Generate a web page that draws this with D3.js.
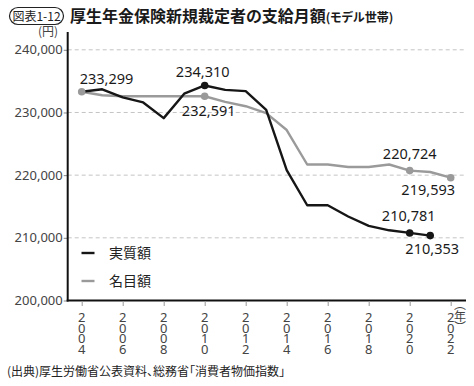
<!DOCTYPE html>
<html><head><meta charset="utf-8">
<script src="https://cdn.jsdelivr.net/npm/d3@7"></script>
<style>
body{margin:0;background:#fff;}
text{font-family:"Noto Sans CJK JP","Noto Sans",sans-serif;}
.palt{font-feature-settings:"palt";}
.vert{writing-mode:vertical-rl;text-orientation:upright;}
.vmix{writing-mode:vertical-rl;font-feature-settings:"vpal";}
</style></head>
<body><svg id="c" width="474" height="386"></svg>
<script>
const years = d3.range(2004, 2023);
const realValues = [233299, 233700, 232400, 231600, 229100, 233000, 234310, 233600, 233400, 230400, 220800, 215200, 215200, 213400, 211900, 211200, 210781, 210353];
const nominalValues = [233299, 232750, 232600, 232600, 232600, 232600, 232591, 231700, 231000, 229900, 227200, 221700, 221700, 221300, 221300, 221700, 220724, 220500, 219593];
const yTicks = [200000, 210000, 220000, 230000, 240000];
const xTicks = [2004, 2006, 2008, 2010, 2012, 2014, 2016, 2018, 2020, 2022];
const seriesNames = ["実質額", "名目額"];
const labels = [
  {s:1, year:2004, v:233299, dx:-2, dy:-8, anchor:"start"},
  {s:0, year:2010, v:234310, dx:-2, dy:-8, anchor:"middle"},
  {s:1, year:2010, v:232591, dx:4, dy:20, anchor:"middle"},
  {s:1, year:2020, v:220724, dx:0, dy:-12, anchor:"middle"},
  {s:1, year:2022, v:219593, dx:-22.5, dy:17, anchor:"middle"},
  {s:0, year:2020, v:210781, dx:-1, dy:-12, anchor:"middle"},
  {s:0, year:2021, v:210353, dx:2, dy:18, anchor:"middle"}
];
const markers = [
  {s:1, year:2004, v:233299},{s:0, year:2010, v:234310},{s:1, year:2010, v:232591},
  {s:1, year:2020, v:220724},{s:1, year:2022, v:219593},{s:0, year:2020, v:210781},{s:0, year:2021, v:210353}
];
const colors = ["#161616", "#9a9a9a"];

const svg = d3.select("#c");
const x = d3.scaleLinear().domain([2004, 2022]).range([81.7, 450.7]);
const y = d3.scaleLinear().domain([200000, 240000]).range([300.5, 49.8]);
const axisX0 = 67.7, axisX1 = 466;

// title
svg.append("rect").attr("x", 9.5).attr("y", 7.5).attr("width", 54).attr("height", 17).attr("rx", 8.5)
  .attr("fill", "none").attr("stroke", "#222").attr("stroke-width", 1.2);
svg.append("text").attr("x", 36.5).attr("y", 20.5).attr("text-anchor", "middle").attr("font-size", 12)
  .attr("class", "palt").attr("fill", "#222").text("図表1-12");
const t = svg.append("text").attr("x", 70).attr("y", 22).attr("fill", "#1a1a1a").attr("class", "palt");
t.append("tspan").attr("font-size", 16).attr("font-weight", "bold").text("厚生年金保険新規裁定者の支給月額");
t.append("tspan").attr("font-size", 12).attr("font-weight", "bold").text("(モデル世帯)");

// grid
svg.append("g").selectAll("line").data(yTicks.filter(d => d > 200000)).join("line")
  .attr("x1", axisX0).attr("x2", axisX1).attr("y1", d => y(d)).attr("y2", d => y(d))
  .attr("stroke", "#c4c4c4").attr("stroke-width", 1).attr("stroke-dasharray", "4,3");

// y axis
const yAxis = d3.axisLeft(y).tickValues(yTicks).tickSize(4).tickFormat(d3.format(","));
const gy = svg.append("g").attr("transform", `translate(${axisX0},0)`).call(yAxis);
gy.select(".domain").remove();
gy.selectAll(".tick line").attr("stroke", "#888");
gy.selectAll(".tick text").attr("font-size", 13).attr("fill", "#444").attr("x", -5)
  .style("font-family", "'Noto Sans','Noto Sans CJK JP',sans-serif");
svg.append("line").attr("x1", axisX0).attr("x2", axisX0).attr("y1", 32).attr("y2", 301.5)
  .attr("stroke", "#111").attr("stroke-width", 2);
svg.append("text").attr("x", 58).attr("y", 36).attr("text-anchor", "end").attr("font-size", 12)
  .attr("fill", "#444").text("(円)");

// x axis
svg.append("line").attr("x1", axisX0 - 1).attr("x2", axisX1).attr("y1", 300.5).attr("y2", 300.5)
  .attr("stroke", "#111").attr("stroke-width", 2);
const xAxis = d3.axisBottom(x).tickValues(xTicks).tickSize(5).tickFormat("");
const gx = svg.append("g").attr("transform", "translate(0,301)").call(xAxis);
gx.select(".domain").remove();
gx.selectAll(".tick line").attr("stroke", "#999");
svg.append("g").selectAll("text").data(xTicks).join("text")
  .attr("class", "vert")
  .attr("x", d => x(d)).attr("y", 308)
  .attr("font-size", 13).attr("fill", "#444")
  .style("letter-spacing", "-7.5px")
  .style("font-family", "'Noto Sans','Noto Sans CJK JP',sans-serif")
  .text(d => String(d));
svg.append("text").attr("class", "vmix").attr("x", 460).attr("y", 304).attr("font-size", 12).attr("fill", "#444")
  .text("（年）");

// lines
const line = d3.line().x((d, i) => x(years[i])).y(d => y(d));
[nominalValues, realValues].forEach((vals, k) => {
  const s = k === 0 ? 1 : 0;
  svg.append("path").datum(vals).attr("d", line).attr("fill", "none")
    .attr("stroke", colors[s]).attr("stroke-width", 2.4).attr("stroke-linejoin", "round");
});
svg.append("g").selectAll("circle").data(markers).join("circle")
  .attr("cx", d => x(d.year)).attr("cy", d => y(d.v)).attr("r", 3.8).attr("fill", d => colors[d.s]);
svg.append("g").selectAll("text").data(labels).join("text")
  .attr("x", d => x(d.year) + d.dx).attr("y", d => y(d.v) + d.dy).attr("text-anchor", d => d.anchor)
  .attr("font-size", 14.5).attr("fill", "#1a1a1a")
  .style("font-family", "'Noto Sans','Noto Sans CJK JP',sans-serif")
  .text(d => d3.format(",")(d.v));

// legend
seriesNames.forEach((n, i) => {
  const ly = 253 + i * 28;
  svg.append("line").attr("x1", 81.5).attr("x2", 94.5).attr("y1", ly).attr("y2", ly)
    .attr("stroke", colors[i]).attr("stroke-width", 2.4);
  svg.append("text").attr("x", 109).attr("y", ly + 5).attr("font-size", 14).attr("fill", "#222").text(n);
});

// source
svg.append("text").attr("x", 7).attr("y", 376).attr("font-size", 12).attr("fill", "#222").attr("class", "palt")
  .text("(出典)厚生労働省公表資料、総務省「消費者物価指数」");
</script></body></html>
